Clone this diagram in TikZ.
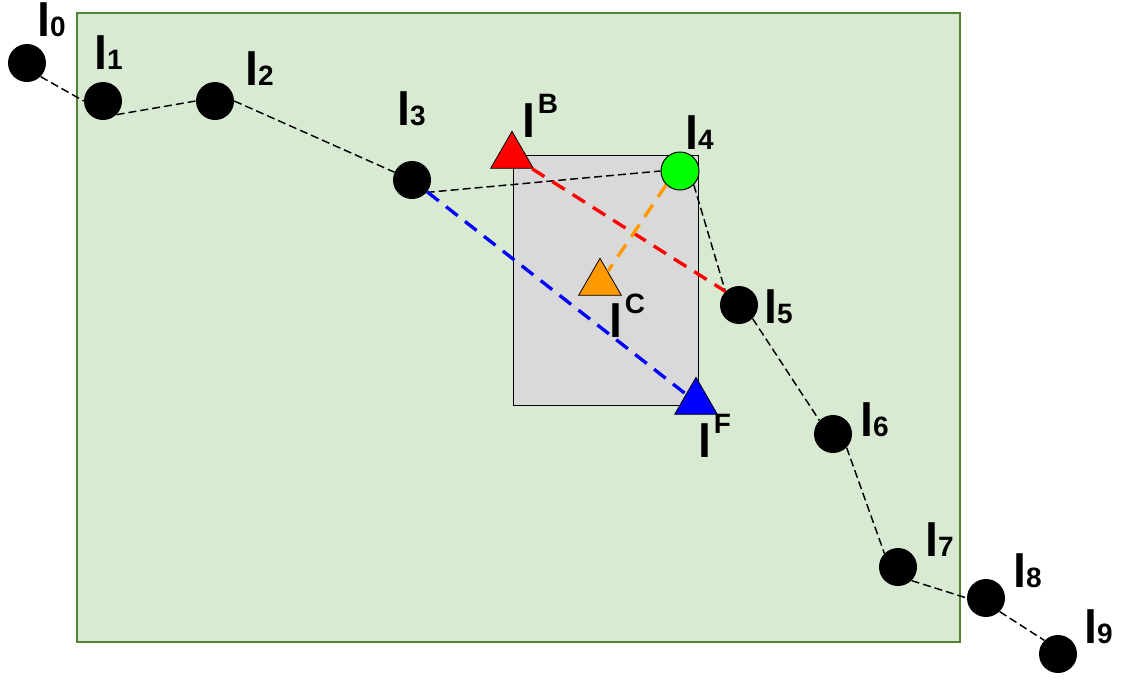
\documentclass[tikz,border=0pt]{standalone}
\usepackage{fontspec}
\setmainfont{Liberation Sans}
\usepackage{xcolor}
\usetikzlibrary{shapes.geometric}
\definecolor{boxgreen}{HTML}{D9EAD3}
\definecolor{edgegreen}{HTML}{548235}
\definecolor{boxgray}{HTML}{D9D9D9}
\definecolor{ptgreen}{HTML}{00FF00}
\definecolor{ptorange}{HTML}{FF9900}
\newcommand\lsub[1]{l{\fontsize{21}{24}\selectfont #1}}
\newcommand\lsup[1]{l\hspace{2pt}\raisebox{18pt}{\fontsize{21}{24}\selectfont #1}}

\begin{document}
\begin{tikzpicture}[x=0.75pt,y=-0.75pt,font=\fontsize{35}{40}\selectfont\bfseries,
  dot/.style={circle,fill=black,inner sep=0pt,minimum size=28.5pt},
  tri/.style={regular polygon,regular polygon sides=3,draw=black,line width=0.6pt,inner sep=0pt,minimum size=37pt},
  lbl/.style={anchor=base west,inner sep=0pt},
  seg/.style={dash pattern=on 6pt off 3pt,line width=1.1pt},
  cseg/.style={dash pattern=on 11pt off 7pt,line width=2.5pt}]
\useasboundingbox (0,0) rectangle (1132,694);
\draw[edgegreen,fill=boxgreen,line width=1.5pt] (77,13) rectangle (960,642);
\draw[fill=boxgray,line width=0.75pt] (513,155) rectangle (698,405);
% chain of points
\node[dot] (l0) at (27,63) {};
\node[dot] (l1) at (103,101) {};
\node[dot] (l2) at (215,101) {};
\node[dot] (l3) at (412,180) {};
\node[dot,fill=ptgreen,draw=black,line width=0.75pt] (l4) at (680,171) {};
\node[dot] (l5) at (739,305) {};
\node[dot] (l6) at (833,434) {};
\node[dot] (l7) at (898,567) {};
\node[dot] (l8) at (986,598) {};
\node[dot] (l9) at (1058,654) {};
\node[tri,fill=red] (lB) at (512,156) {};
\node[tri,fill=ptorange] (lC) at (600,283) {};
\node[tri,fill=blue] (lF) at (696,402) {};
% labels
\node[lbl] (n0) at (37,36) {\lsub{0}};
\node[lbl] (n1) at (94,69) {\lsub{1}};
\node[lbl] (n2) at (245,85) {\lsub{2}};
\node[lbl] (n3) at (397,125) {\lsub{3}};
\node[lbl] (n4) at (685,149) {\lsub{4}};
\node[lbl] (n5) at (764,323) {\lsub{5}};
\node[lbl] (n6) at (860,436) {\lsub{6}};
\node[lbl] (n7) at (925,556) {\lsub{7}};
\node[lbl] (n8) at (1013,587) {\lsub{8}};
\node[lbl] (n9) at (1084,643) {\lsub{9}};
\node[lbl] (nB) at (522,137) {\lsup{B}};
\node[lbl] (nC) at (609,337) {\lsup{C}};
\node[lbl] (nF) at (698,457) {\lsup{F}};
% connectors
\draw[seg] (l0.south east) -- (l1.west);
\draw[seg] (l1.south east) -- (l2.west);
\draw[seg] (l2.east) -- (l3);
\draw[seg] (l3.-40) -- (l4.west);
\draw[seg] (l4.south east) -- (l5.north west);
\draw[seg] (l5.south east) -- (l6.north west);
\draw[seg] (l6.south east) -- (l7.north west);
\draw[seg] (l7.south east) -- (l8.west);
\draw[seg] (l8.south east) -- (l9.north west);
\draw[cseg,red] (lB) -- (l5.north west);
\draw[cseg,blue] (l3) -- (lF);
\draw[cseg,ptorange] (l4.south west) -- (lC);
\end{tikzpicture}
\end{document}
